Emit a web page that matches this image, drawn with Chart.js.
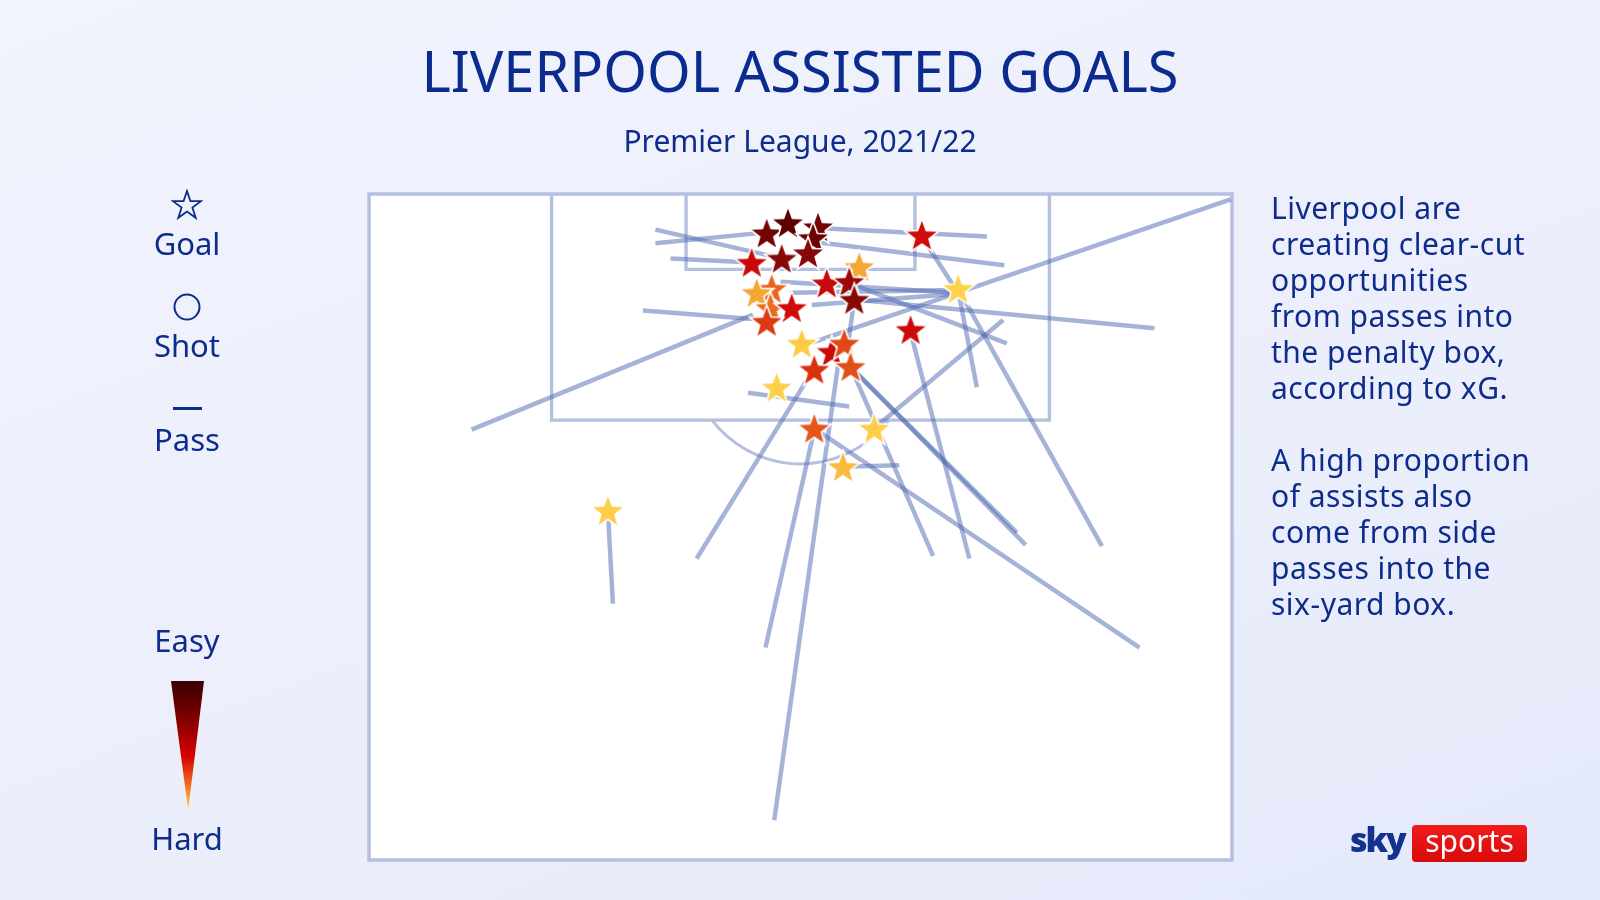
<!DOCTYPE html>
<html>
<head>
<meta charset="utf-8">
<script src="https://cdn.jsdelivr.net/npm/chart.js@4.4.1/dist/chart.umd.min.js"></script>
<style>
  html, body { margin: 0; padding: 0; }
  body {
    width: 1600px; height: 900px; overflow: hidden; position: relative;
    background: linear-gradient(160deg, #f1f3fd 0%, #eceffb 55%, #e4e9fa 100%);
    font-family: "Noto Sans", "Open Sans", sans-serif; color: #0d2c8c;
  }
  #chart { position: absolute; left: 0; top: 0; }
  .t { position: absolute; line-height: 1; white-space: nowrap; }
  #title { left: 0; width: 1600px; top: 42px; font-size: 56px; text-align: center; color: #0b2b8f; }
  #subtitle { left: 0; width: 1600px; top: 126px; font-size: 30px; text-align: center; color: #0d2c8c; }
  .leg { left: 127px; width: 120px; text-align: center; font-size: 31px; color: #0d2c8c; }
  #notes { position: absolute; left: 1271px; top: 190px; width: 330px; font-size: 30px; letter-spacing: 0.5px; line-height: 36px; color: #0d2c8c; }
  #notes p { margin: 0 0 36px 0; }
  #ramp {
    position: absolute; left: 171px; top: 681px; width: 33px; height: 129px;
    clip-path: polygon(0 0, 100% 0, 52% 100%);
    background: linear-gradient(180deg, #3a0000 0%, #820000 30%, #d60000 58%, #ef6a1f 80%, #ffd84a 100%);
  }
  #logo { position: absolute; left: 1350px; top: 822px; height: 42px; }
  #sky { position: absolute; left: 0px; top: 0px; font-size: 34px; font-weight: 900; letter-spacing: -2px; color: #13318d; line-height: 1; }
  #sports { position: absolute; left: 62px; top: 3px; width: 115px; height: 37px; border-radius: 4px;
    background: linear-gradient(180deg, #f21b1b 0%, #d80a0a 100%); color: #fff; font-size: 30px; line-height: 32px; text-align: center; }
</style>
</head>
<body>
<canvas id="chart" width="1600" height="900"></canvas>

<div id="title" class="t">LIVERPOOL ASSISTED GOALS</div>
<div id="subtitle" class="t">Premier League, 2021/22</div>

<svg style="position:absolute;left:171px;top:189px" width="32" height="32" viewBox="0 0 32 32">
  <polygon points="16,2 19.4,12.1 30,12.1 21.4,18.5 24.7,28.8 16,22.5 7.3,28.8 10.6,18.5 2,12.1 12.6,12.1"
           fill="none" stroke="#0d2c8c" stroke-width="1.8" stroke-linejoin="miter"/>
</svg>
<div class="t leg" style="top:228px">Goal</div>
<svg style="position:absolute;left:172px;top:292px" width="30" height="30" viewBox="0 0 30 30">
  <circle cx="15" cy="15" r="12.5" fill="none" stroke="#0d2c8c" stroke-width="2"/>
</svg>
<div class="t leg" style="top:330px">Shot</div>
<div style="position:absolute;left:173px;top:407px;width:29px;height:3px;background:#0d2c8c"></div>
<div class="t leg" style="top:424px">Pass</div>
<div class="t leg" style="top:625px">Easy</div>
<div id="ramp"></div>
<div class="t leg" style="top:823px">Hard</div>

<div id="notes">
  <p>Liverpool are<br>creating clear-cut<br>opportunities<br>from passes into<br>the penalty box,<br>according to xG.</p>
  <p>A high proportion<br>of assists also<br>come from side<br>passes into the<br>six-yard box.</p>
</div>

<div id="logo">
  <div id="sky">sky</div>
  <div id="sports">sports</div>
</div>

<script>
// pitch coordinates in metres: x across the pitch (left to right), y from the goal line downwards
const goalX    = [31.8, 33.5, 35.9, 35.5, 33.0, 30.6, 35.1, 39.2, 36.6, 38.4, 38.8, 32.2, 31.0, 32.1, 33.8,
                  31.8, 44.2, 47.1, 43.3, 34.6, 37.0, 38.0, 35.6, 38.5, 32.6, 35.6, 40.4, 37.9, 19.1];
const goalY    = [2.85, 2.1, 2.4, 3.2, 4.7, 5.0, 4.3, 5.3, 6.5, 6.4, 7.7, 6.9, 7.2, 8.3, 8.3,
                  9.3, 3.0, 6.9, 9.9, 10.9, 11.5, 10.9, 12.8, 12.6, 14.1, 17.1, 17.1, 19.9, 23.1];
// chance quality, 0 = hard, 1 = easy
const goalEase = [0.95, 1.0, 0.95, 0.97, 0.9, 0.74, 0.9, 0.25, 0.74, 0.85, 0.9, 0.45, 0.25, 0.42, 0.72,
                  0.6, 0.72, 0.03, 0.73, 0.06, 0.73, 0.55, 0.62, 0.52, 0.04, 0.5, 0.05, 0.15, 0.05];

const passStartX = [8.2, 21.9, 22.9, 22.9, 24.1, 26.2, 31.7, 32.4, 19.5, 61.6, 45.1, 52.5, 51.8, 48.0, 58.6,
                    48.6, 68.9, 62.8, 49.4, 50.8, 51.0, 50.7, 46.8, 46.8, 46.8, 46.8, 38.4, 42.4, 38.3];
const passStartY = [17.2, 8.5, 2.6, 3.6, 4.7, 26.6, 33.1, 45.7, 29.9, 33.1, 26.4, 25.6, 24.7, 26.6, 25.7,
                    14.1, 0.4, 9.8, 3.1, 5.2, 10.9, 9.2, 6.8, 7.0, 7.2, 7.3, 15.5, 19.8, 11.0];
const passEndX   = [30.7, 31.7, 33.0, 31.8, 30.6, 35.4, 35.6, 37.5, 19.1, 35.6, 38.5, 38.5, 38.9, 43.3, 47.1,
                    47.1, 34.6, 38.8, 36.2, 35.7, 38.4, 40.4, 44.2, 33.7, 32.9, 35.4, 30.3, 37.9, 38.8];
const passEndY   = [8.8, 9.2, 4.7, 2.8, 5.0, 13.0, 17.2, 12.5, 23.1, 17.1, 12.6, 12.6, 13.0, 10.1, 6.9,
                    7.0, 11.1, 7.7, 2.5, 3.5, 6.5, 17.1, 3.1, 7.2, 6.4, 8.1, 14.5, 19.9, 7.7];

const PITCH_W = 69, PITCH_D = 48.6;

const easeStops = [
  [0.00, [255, 216, 76]],
  [0.25, [245, 167, 52]],
  [0.45, [232, 100, 31]],
  [0.60, [220, 58, 18]],
  [0.72, [209, 10, 10]],
  [0.88, [144, 8, 8]],
  [1.00, [96, 0, 0]]
];
function easeColor(v) {
  for (let i = 1; i < easeStops.length; i++) {
    if (v <= easeStops[i][0]) {
      const [a, ca] = easeStops[i - 1], [b, cb] = easeStops[i];
      const t = (v - a) / (b - a);
      const c = ca.map((k, j) => Math.round(k + (cb[j] - k) * t));
      return `rgb(${c[0]},${c[1]},${c[2]})`;
    }
  }
  return 'rgb(96,0,0)';
}

const starCache = {};
function starImage(color) {
  if (starCache[color]) return starCache[color];
  const R = 18, r = 7.5, size = 42;
  const c = document.createElement('canvas');
  c.width = size; c.height = size;
  const g = c.getContext('2d');
  g.beginPath();
  for (let i = 0; i < 10; i++) {
    const rad = i % 2 ? r : R;
    const a = -Math.PI / 2 + i * Math.PI / 5;
    const px = size / 2 + rad * Math.cos(a), py = size / 2 + 1.5 + rad * Math.sin(a);
    i ? g.lineTo(px, py) : g.moveTo(px, py);
  }
  g.closePath();
  g.fillStyle = color;
  g.fill();
  g.lineWidth = 1.6;
  g.strokeStyle = '#ffffff';
  g.lineJoin = 'miter';
  g.stroke();
  starCache[color] = c;
  return c;
}

const passDatasets = passStartX.map((x, i) => ({
  data: [{ x: x, y: passStartY[i] }, { x: passEndX[i], y: passEndY[i] }],
  showLine: true,
  borderColor: 'rgba(78, 104, 178, 0.5)',
  borderWidth: 4.5,
  borderCapStyle: 'butt',
  pointRadius: 0,
  order: 1
}));

const goalDataset = {
  data: goalX.map((x, i) => ({ x: x, y: goalY[i] })),
  pointStyle: ctx => starImage(easeColor(goalEase[ctx.dataIndex])),
  pointRadius: 18,
  showLine: false,
  order: 0
};

const pitchLines = {
  id: 'pitchLines',
  beforeDatasetsDraw(chart) {
    const { ctx, chartArea: a, scales: { x, y } } = chart;
    ctx.save();
    ctx.fillStyle = '#ffffff';
    ctx.fillRect(a.left, a.top, a.width, a.height);
    ctx.strokeStyle = '#b5c0e1';
    ctx.lineWidth = 3.4;
    const box = (w, d) => {
      const x0 = x.getPixelForValue((PITCH_W - w) / 2), x1 = x.getPixelForValue((PITCH_W + w) / 2);
      const y1 = y.getPixelForValue(d);
      ctx.beginPath();
      ctx.moveTo(x0, a.top); ctx.lineTo(x0, y1); ctx.lineTo(x1, y1); ctx.lineTo(x1, a.top);
      ctx.stroke();
    };
    box(39.8, 16.5);
    box(18.3, 5.5);
    // penalty arc outside the box
    const cx = x.getPixelForValue(PITCH_W / 2), cy = y.getPixelForValue(11);
    const rx = x.getPixelForValue(PITCH_W / 2 + 9.15) - cx, ry = y.getPixelForValue(11 + 8.7) - cy;
    const yb = y.getPixelForValue(16.5);
    const t = Math.asin((yb - cy) / ry);
    ctx.lineWidth = 3;
    ctx.beginPath();
    ctx.ellipse(cx, cy, rx, ry, 0, t, Math.PI - t);
    ctx.stroke();
    ctx.lineWidth = 3.5;
    ctx.strokeRect(a.left, a.top, a.width, a.height);
    ctx.restore();
  }
};

new Chart(document.getElementById('chart'), {
  type: 'scatter',
  data: { datasets: [goalDataset, ...passDatasets] },
  options: {
    responsive: false,
    animation: false,
    events: [],
    layout: { padding: { left: 369, right: 368, top: 194, bottom: 40 } },
    scales: {
      x: { type: 'linear', min: 0, max: PITCH_W, display: false },
      y: { type: 'linear', min: 0, max: PITCH_D, reverse: true, display: false }
    },
    plugins: { legend: { display: false }, tooltip: { enabled: false } }
  },
  plugins: [pitchLines]
});
</script>
</body>
</html>
